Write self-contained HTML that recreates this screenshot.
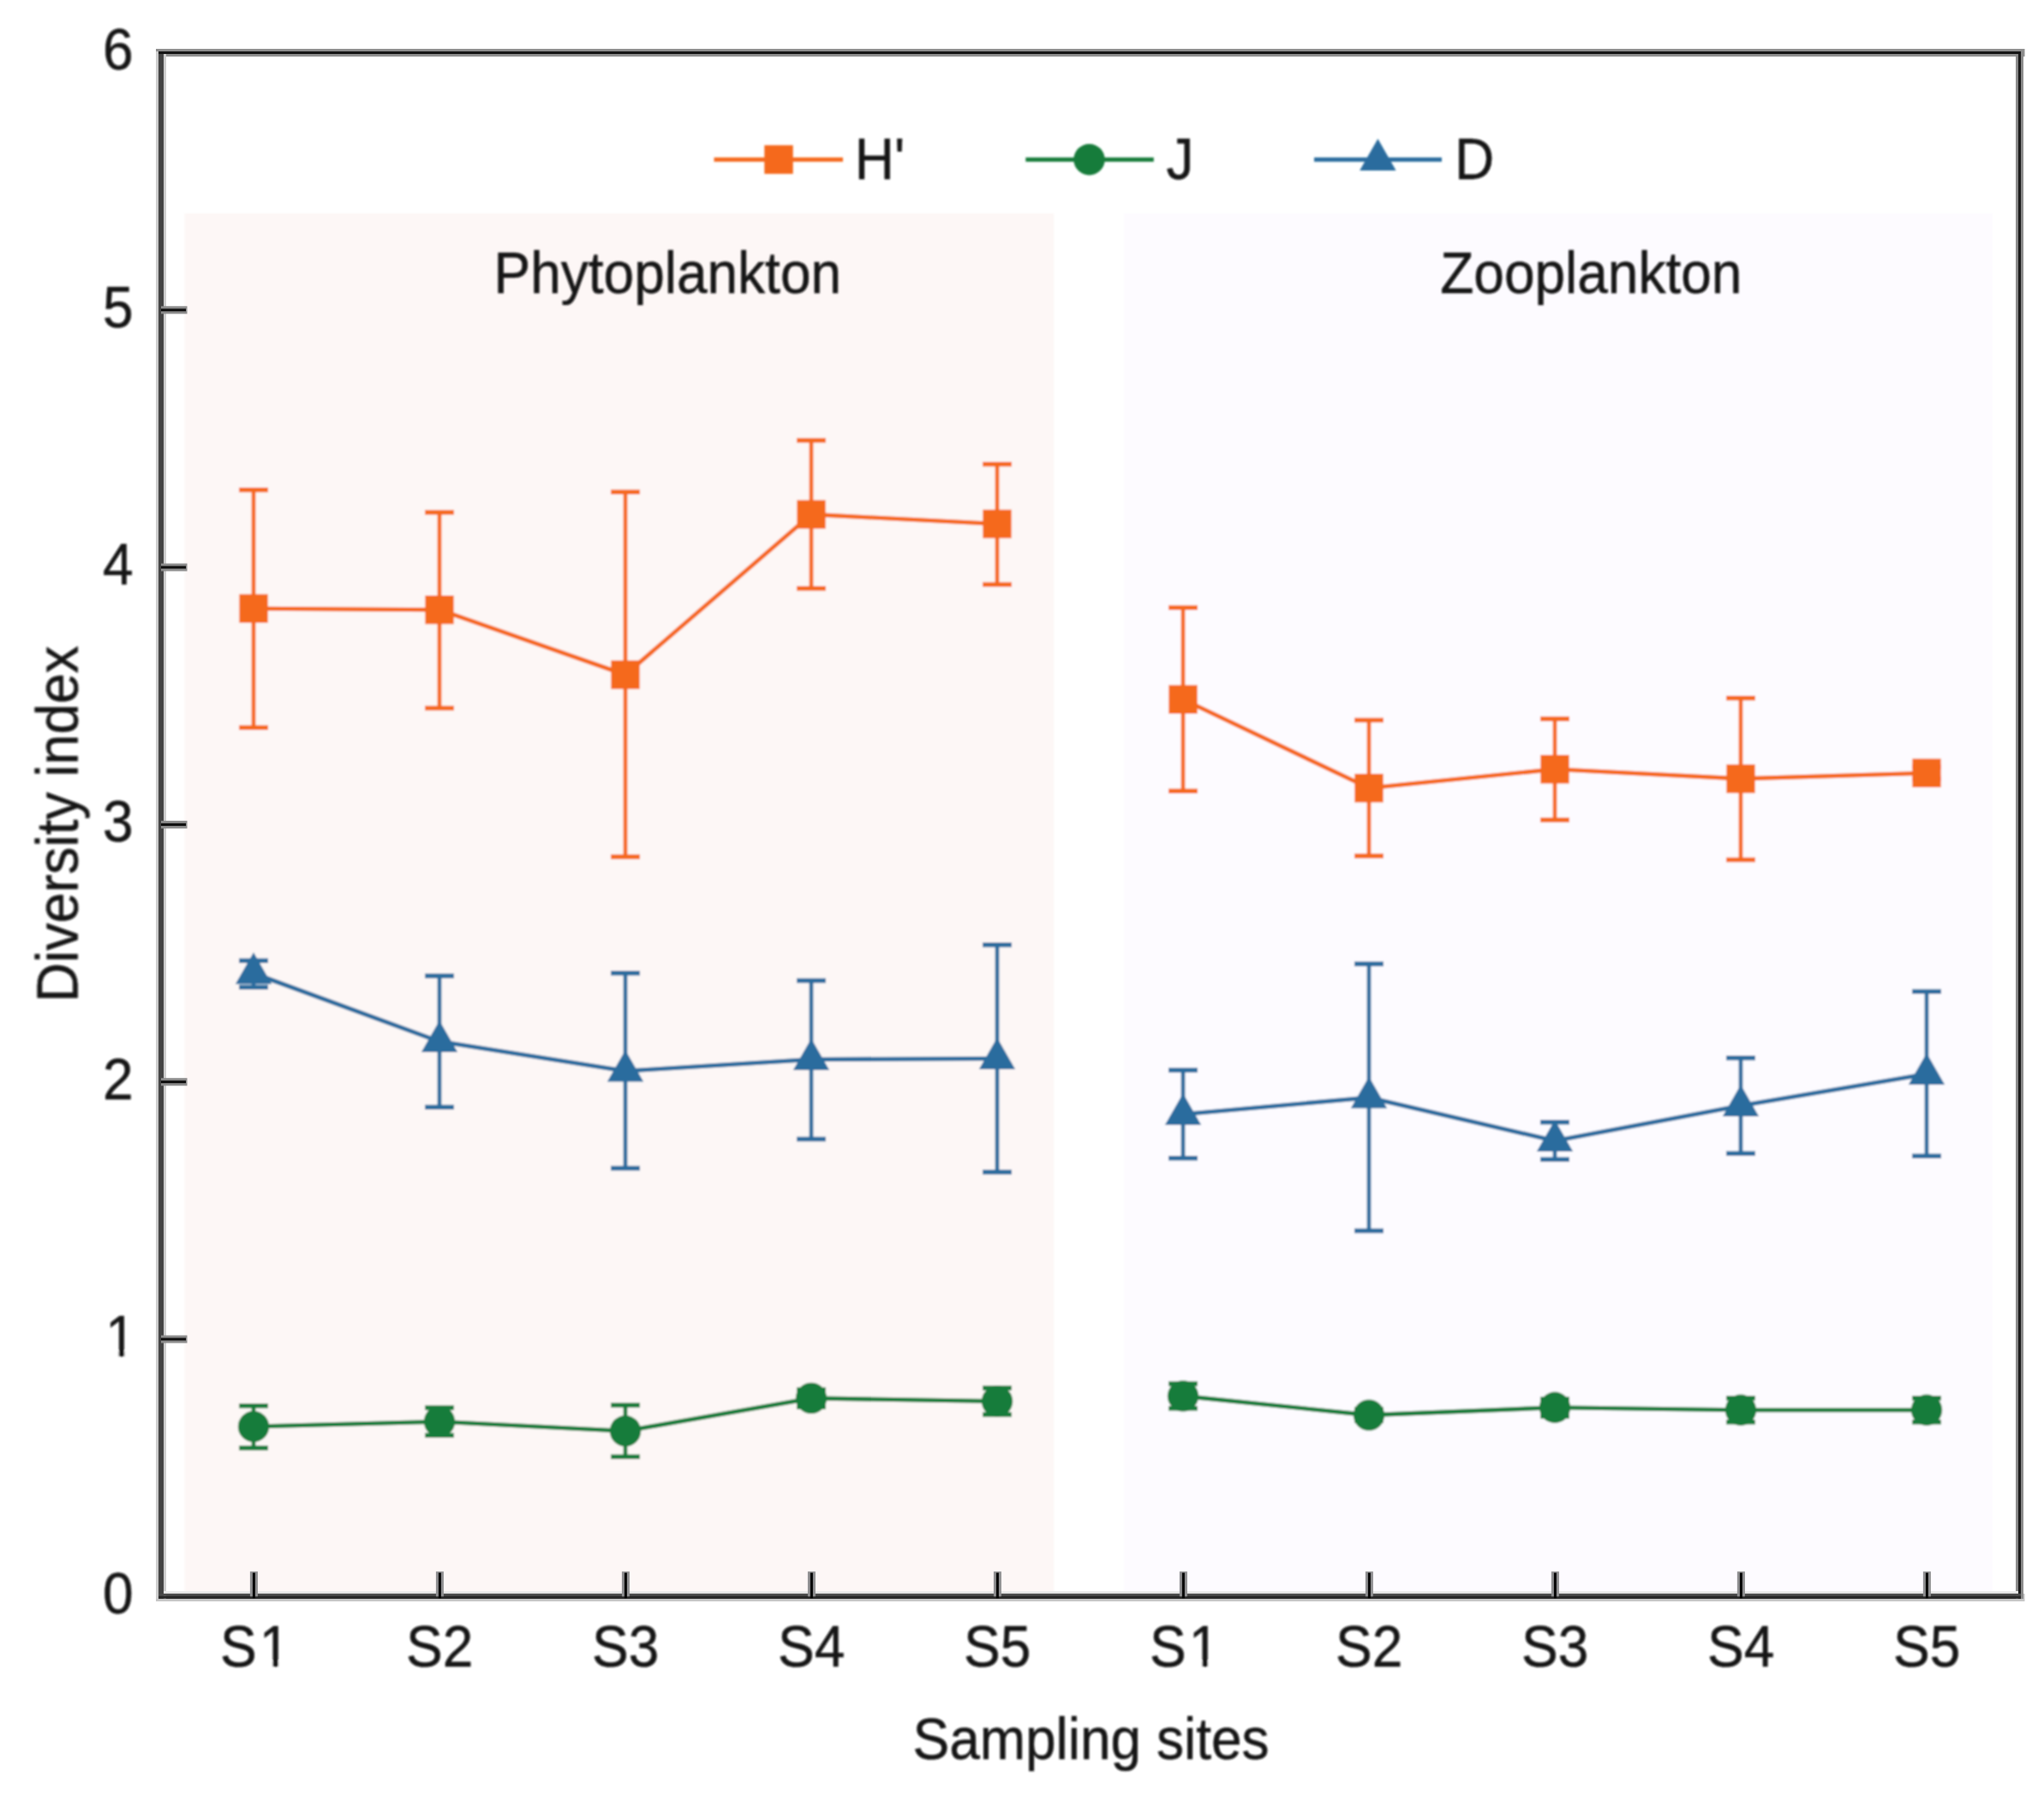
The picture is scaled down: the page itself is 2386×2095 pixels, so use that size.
<!DOCTYPE html>
<html lang="en"><head><meta charset="utf-8"><title>Diversity index of phytoplankton and zooplankton</title>
<style>
html,body{margin:0;padding:0;background:#fff;}
body{width:2386px;height:2095px;overflow:hidden;}
svg{display:block;}
text{font-family:"Liberation Sans",Arial,Helvetica,sans-serif;font-size:68.5px;fill:#141414;stroke:#141414;stroke-width:0.5px;stroke-linejoin:round;}
</style></head><body>
<svg width="2386" height="2095" viewBox="0 0 2386 2095">
<rect x="0" y="0" width="2386" height="2095" fill="#ffffff"/>
<defs>
<filter id="soft" filterUnits="userSpaceOnUse" x="0" y="0" width="2386" height="2095"><feGaussianBlur stdDeviation="0.9"/></filter>
</defs>
<g filter="url(#soft)">
<rect x="215.5" y="249" width="1014.7" height="1611" fill="#fdf7f6"/>
<rect x="1312" y="249" width="1014" height="1611" fill="#fdfbff"/>
<path d="M296,710.2 L513,711.7 L730,787.5 L947,600.4 L1164,611.5" fill="none" stroke="#f5691f" stroke-width="5.1" stroke-linejoin="round"/>
<path d="M1381,816.3 L1598,919.8 L1815,897.8 L2032,908.9 L2249,902.2" fill="none" stroke="#f5691f" stroke-width="5.1" stroke-linejoin="round"/>
<path d="M296,571.8V849.2" fill="none" stroke="#f5691f" stroke-width="4.7"/>
<path d="M279.0,571.8H313.0M279.0,849.2H313.0" fill="none" stroke="#f5691f" stroke-width="5.5"/>
<path d="M513,598V826.6" fill="none" stroke="#f5691f" stroke-width="4.7"/>
<path d="M496.0,598H530.0M496.0,826.6H530.0" fill="none" stroke="#f5691f" stroke-width="5.5"/>
<path d="M730,574.2V1000" fill="none" stroke="#f5691f" stroke-width="4.7"/>
<path d="M713.0,574.2H747.0M713.0,1000H747.0" fill="none" stroke="#f5691f" stroke-width="5.5"/>
<path d="M947,514V686.7" fill="none" stroke="#f5691f" stroke-width="4.7"/>
<path d="M930.0,514H964.0M930.0,686.7H964.0" fill="none" stroke="#f5691f" stroke-width="5.5"/>
<path d="M1164,541.7V682.2" fill="none" stroke="#f5691f" stroke-width="4.7"/>
<path d="M1147.0,541.7H1181.0M1147.0,682.2H1181.0" fill="none" stroke="#f5691f" stroke-width="5.5"/>
<path d="M1381,709.2V923.3" fill="none" stroke="#f5691f" stroke-width="4.7"/>
<path d="M1364.0,709.2H1398.0M1364.0,923.3H1398.0" fill="none" stroke="#f5691f" stroke-width="5.5"/>
<path d="M1598,840.5V999" fill="none" stroke="#f5691f" stroke-width="4.7"/>
<path d="M1581.0,840.5H1615.0M1581.0,999H1615.0" fill="none" stroke="#f5691f" stroke-width="5.5"/>
<path d="M1815,839V957.1" fill="none" stroke="#f5691f" stroke-width="4.7"/>
<path d="M1798.0,839H1832.0M1798.0,957.1H1832.0" fill="none" stroke="#f5691f" stroke-width="5.5"/>
<path d="M2032,814.7V1003.4" fill="none" stroke="#f5691f" stroke-width="4.7"/>
<path d="M2015.0,814.7H2049.0M2015.0,1003.4H2049.0" fill="none" stroke="#f5691f" stroke-width="5.5"/>
<path d="M2249,895V909" fill="none" stroke="#f5691f" stroke-width="4.7"/>
<path d="M2232.0,895H2266.0M2232.0,909H2266.0" fill="none" stroke="#f5691f" stroke-width="5.5"/>
<rect x="279.3" y="693.5" width="33.4" height="33.4" fill="#f5691f"/>
<rect x="496.3" y="695.0" width="33.4" height="33.4" fill="#f5691f"/>
<rect x="713.3" y="770.8" width="33.4" height="33.4" fill="#f5691f"/>
<rect x="930.3" y="583.6999999999999" width="33.4" height="33.4" fill="#f5691f"/>
<rect x="1147.3" y="594.8" width="33.4" height="33.4" fill="#f5691f"/>
<rect x="1364.3" y="799.5999999999999" width="33.4" height="33.4" fill="#f5691f"/>
<rect x="1581.3" y="903.0999999999999" width="33.4" height="33.4" fill="#f5691f"/>
<rect x="1798.3" y="881.0999999999999" width="33.4" height="33.4" fill="#f5691f"/>
<rect x="2015.3" y="892.1999999999999" width="33.4" height="33.4" fill="#f5691f"/>
<rect x="2232.3" y="885.5" width="33.4" height="33.4" fill="#f5691f"/>
<path d="M296,1136 L513,1215.6 L730,1250 L947,1236.5 L1164,1235.5" fill="none" stroke="#2a6c9e" stroke-width="5.1" stroke-linejoin="round"/>
<path d="M1381,1300.5 L1598,1281 L1815,1331.5 L2032,1290.5 L2249,1253.5" fill="none" stroke="#2a6c9e" stroke-width="5.1" stroke-linejoin="round"/>
<path d="M296,1121.3V1152.2" fill="none" stroke="#2a6c9e" stroke-width="4.7"/>
<path d="M279.0,1121.3H313.0M279.0,1152.2H313.0" fill="none" stroke="#2a6c9e" stroke-width="5.5"/>
<path d="M513,1138.9V1292.2" fill="none" stroke="#2a6c9e" stroke-width="4.7"/>
<path d="M496.0,1138.9H530.0M496.0,1292.2H530.0" fill="none" stroke="#2a6c9e" stroke-width="5.5"/>
<path d="M730,1135.7V1363.5" fill="none" stroke="#2a6c9e" stroke-width="4.7"/>
<path d="M713.0,1135.7H747.0M713.0,1363.5H747.0" fill="none" stroke="#2a6c9e" stroke-width="5.5"/>
<path d="M947,1144.5V1329.4" fill="none" stroke="#2a6c9e" stroke-width="4.7"/>
<path d="M930.0,1144.5H964.0M930.0,1329.4H964.0" fill="none" stroke="#2a6c9e" stroke-width="5.5"/>
<path d="M1164,1102.8V1367.9" fill="none" stroke="#2a6c9e" stroke-width="4.7"/>
<path d="M1147.0,1102.8H1181.0M1147.0,1367.9H1181.0" fill="none" stroke="#2a6c9e" stroke-width="5.5"/>
<path d="M1381,1249V1351.8" fill="none" stroke="#2a6c9e" stroke-width="4.7"/>
<path d="M1364.0,1249H1398.0M1364.0,1351.8H1398.0" fill="none" stroke="#2a6c9e" stroke-width="5.5"/>
<path d="M1598,1124.9V1436.6" fill="none" stroke="#2a6c9e" stroke-width="4.7"/>
<path d="M1581.0,1124.9H1615.0M1581.0,1436.6H1615.0" fill="none" stroke="#2a6c9e" stroke-width="5.5"/>
<path d="M1815,1309.8V1353.3" fill="none" stroke="#2a6c9e" stroke-width="4.7"/>
<path d="M1798.0,1309.8H1832.0M1798.0,1353.3H1832.0" fill="none" stroke="#2a6c9e" stroke-width="5.5"/>
<path d="M2032,1234.7V1346.2" fill="none" stroke="#2a6c9e" stroke-width="4.7"/>
<path d="M2015.0,1234.7H2049.0M2015.0,1346.2H2049.0" fill="none" stroke="#2a6c9e" stroke-width="5.5"/>
<path d="M2249,1157.2V1349.2" fill="none" stroke="#2a6c9e" stroke-width="4.7"/>
<path d="M2232.0,1157.2H2266.0M2232.0,1349.2H2266.0" fill="none" stroke="#2a6c9e" stroke-width="5.5"/>
<path d="M296,1111.4L317.2,1148.5H274.8Z" fill="#2a6c9e"/>
<path d="M513,1191.0L534.2,1228.1H491.8Z" fill="#2a6c9e"/>
<path d="M730,1225.4L751.2,1262.5H708.8Z" fill="#2a6c9e"/>
<path d="M947,1211.9L968.2,1249.0H925.8Z" fill="#2a6c9e"/>
<path d="M1164,1210.9L1185.2,1248.0H1142.8Z" fill="#2a6c9e"/>
<path d="M1381,1275.9L1402.2,1313.0H1359.8Z" fill="#2a6c9e"/>
<path d="M1598,1256.4L1619.2,1293.5H1576.8Z" fill="#2a6c9e"/>
<path d="M1815,1306.9L1836.2,1344.0H1793.8Z" fill="#2a6c9e"/>
<path d="M2032,1265.9L2053.2,1303.0H2010.8Z" fill="#2a6c9e"/>
<path d="M2249,1228.9L2270.2,1266.0H2227.8Z" fill="#2a6c9e"/>
<path d="M296,1665 L513,1659.2 L730,1670.2 L947,1631.9 L1164,1635.5" fill="none" stroke="#187c3b" stroke-width="5.1" stroke-linejoin="round"/>
<path d="M1381,1629.4 L1598,1651.6 L1815,1642.8 L2032,1645.7 L2249,1645.7" fill="none" stroke="#187c3b" stroke-width="5.1" stroke-linejoin="round"/>
<path d="M296,1640.7V1690" fill="none" stroke="#187c3b" stroke-width="4.7"/>
<path d="M279.0,1640.7H313.0M279.0,1690H313.0" fill="none" stroke="#187c3b" stroke-width="5.5"/>
<path d="M513,1643V1675.3" fill="none" stroke="#187c3b" stroke-width="4.7"/>
<path d="M496.0,1643H530.0M496.0,1675.3H530.0" fill="none" stroke="#187c3b" stroke-width="5.5"/>
<path d="M730,1640.1V1700.3" fill="none" stroke="#187c3b" stroke-width="4.7"/>
<path d="M713.0,1640.1H747.0M713.0,1700.3H747.0" fill="none" stroke="#187c3b" stroke-width="5.5"/>
<path d="M947,1622V1642" fill="none" stroke="#187c3b" stroke-width="4.7"/>
<path d="M930.0,1622H964.0M930.0,1642H964.0" fill="none" stroke="#187c3b" stroke-width="5.5"/>
<path d="M1164,1620V1651" fill="none" stroke="#187c3b" stroke-width="4.7"/>
<path d="M1147.0,1620H1181.0M1147.0,1651H1181.0" fill="none" stroke="#187c3b" stroke-width="5.5"/>
<path d="M1381,1615.1V1643.7" fill="none" stroke="#187c3b" stroke-width="4.7"/>
<path d="M1364.0,1615.1H1398.0M1364.0,1643.7H1398.0" fill="none" stroke="#187c3b" stroke-width="5.5"/>
<path d="M1598,1645V1658" fill="none" stroke="#187c3b" stroke-width="4.7"/>
<path d="M1581.0,1645H1615.0M1581.0,1658H1615.0" fill="none" stroke="#187c3b" stroke-width="5.5"/>
<path d="M1815,1633V1653" fill="none" stroke="#187c3b" stroke-width="4.7"/>
<path d="M1798.0,1633H1832.0M1798.0,1653H1832.0" fill="none" stroke="#187c3b" stroke-width="5.5"/>
<path d="M2032,1631.7V1659.7" fill="none" stroke="#187c3b" stroke-width="4.7"/>
<path d="M2015.0,1631.7H2049.0M2015.0,1659.7H2049.0" fill="none" stroke="#187c3b" stroke-width="5.5"/>
<path d="M2249,1631.7V1659.7" fill="none" stroke="#187c3b" stroke-width="4.7"/>
<path d="M2232.0,1631.7H2266.0M2232.0,1659.7H2266.0" fill="none" stroke="#187c3b" stroke-width="5.5"/>
<circle cx="296" cy="1665" r="18.2" fill="#187c3b"/>
<circle cx="513" cy="1659.2" r="18.2" fill="#187c3b"/>
<circle cx="730" cy="1670.2" r="18.2" fill="#187c3b"/>
<circle cx="947" cy="1631.9" r="18.2" fill="#187c3b"/>
<circle cx="1164" cy="1635.5" r="18.2" fill="#187c3b"/>
<circle cx="1381" cy="1629.4" r="18.2" fill="#187c3b"/>
<circle cx="1598" cy="1651.6" r="18.2" fill="#187c3b"/>
<circle cx="1815" cy="1642.8" r="18.2" fill="#187c3b"/>
<circle cx="2032" cy="1645.7" r="18.2" fill="#187c3b"/>
<circle cx="2249" cy="1645.7" r="18.2" fill="#187c3b"/>
</g><g>
<rect x="182.0" y="57.0" width="2181.5" height="9" fill="#8e8e8e"/>
<rect x="185.0" y="60.0" width="2175.5" height="3" fill="#141414"/>
<rect x="182.0" y="1860.0" width="2181.5" height="9" fill="#c6c6c6"/>
<rect x="185.0" y="1860.0" width="2175.5" height="6" fill="#363636"/>
<rect x="182.0" y="60.0" width="12" height="1806.0" fill="#cdcdcd"/>
<rect x="185.0" y="60.0" width="6" height="1806.0" fill="#444444"/>
<rect x="2353.0" y="60.0" width="9" height="1806.0" fill="#8a8a8a"/>
<rect x="2356.0" y="60.0" width="3" height="1806.0" fill="#1a1a1a"/>
<rect x="185.0" y="60.0" width="2174.0" height="3" fill="#141414"/>
<rect x="191.0" y="1857.0" width="2165.0" height="3" fill="#eaeaea"/>
<rect x="185.0" y="1859.8999999999999" width="2174.0" height="3" fill="#4a4a4a"/>
<rect x="185.0" y="1862.8999999999999" width="2174.0" height="2.9" fill="#262626"/>
<rect x="188.0" y="1558.5" width="30.5" height="9" fill="#8c8c8c"/>
<rect x="188.0" y="1561.5" width="29.0" height="3" fill="#0c0c0c"/>
<rect x="188.0" y="1258.1999999999998" width="30.5" height="9" fill="#8c8c8c"/>
<rect x="188.0" y="1261.1999999999998" width="29.0" height="3" fill="#0c0c0c"/>
<rect x="188.0" y="957.8999999999999" width="30.5" height="9" fill="#8c8c8c"/>
<rect x="188.0" y="960.8999999999999" width="29.0" height="3" fill="#0c0c0c"/>
<rect x="188.0" y="657.5999999999999" width="30.5" height="9" fill="#8c8c8c"/>
<rect x="188.0" y="660.5999999999999" width="29.0" height="3" fill="#0c0c0c"/>
<rect x="188.0" y="357.29999999999995" width="30.5" height="9" fill="#8c8c8c"/>
<rect x="188.0" y="360.29999999999995" width="29.0" height="3" fill="#0c0c0c"/>
<rect x="291.9" y="1834.2" width="9" height="29.09999999999991" fill="#8e8e90"/>
<rect x="294.9" y="1835.6" width="3" height="29.700000000000045" fill="#060606"/>
<rect x="508.9" y="1834.2" width="9" height="29.09999999999991" fill="#8e8e90"/>
<rect x="511.9" y="1835.6" width="3" height="29.700000000000045" fill="#060606"/>
<rect x="725.9" y="1834.2" width="9" height="29.09999999999991" fill="#8e8e90"/>
<rect x="728.9" y="1835.6" width="3" height="29.700000000000045" fill="#060606"/>
<rect x="942.9" y="1834.2" width="9" height="29.09999999999991" fill="#8e8e90"/>
<rect x="945.9" y="1835.6" width="3" height="29.700000000000045" fill="#060606"/>
<rect x="1159.9" y="1834.2" width="9" height="29.09999999999991" fill="#8e8e90"/>
<rect x="1162.9" y="1835.6" width="3" height="29.700000000000045" fill="#060606"/>
<rect x="1376.9" y="1834.2" width="9" height="29.09999999999991" fill="#8e8e90"/>
<rect x="1379.9" y="1835.6" width="3" height="29.700000000000045" fill="#060606"/>
<rect x="1593.9" y="1834.2" width="9" height="29.09999999999991" fill="#8e8e90"/>
<rect x="1596.9" y="1835.6" width="3" height="29.700000000000045" fill="#060606"/>
<rect x="1810.9" y="1834.2" width="9" height="29.09999999999991" fill="#8e8e90"/>
<rect x="1813.9" y="1835.6" width="3" height="29.700000000000045" fill="#060606"/>
<rect x="2027.9" y="1834.2" width="9" height="29.09999999999991" fill="#8e8e90"/>
<rect x="2030.9" y="1835.6" width="3" height="29.700000000000045" fill="#060606"/>
<rect x="2244.9" y="1834.2" width="9" height="29.09999999999991" fill="#8e8e90"/>
<rect x="2247.9" y="1835.6" width="3" height="29.700000000000045" fill="#060606"/>
</g><g filter="url(#soft)">
<line x1="833.5" y1="186.2" x2="984" y2="186.2" stroke="#f5691f" stroke-width="5.1"/>
<rect x="892.3" y="169.5" width="33.4" height="33.4" fill="#f5691f"/>
<line x1="1197.3" y1="186.2" x2="1346.8" y2="186.2" stroke="#187c3b" stroke-width="5.1"/>
<circle cx="1271.5" cy="186.2" r="18.2" fill="#187c3b"/>
<line x1="1534" y1="186.2" x2="1683" y2="186.2" stroke="#2a6c9e" stroke-width="5.1"/>
<path d="M1608.4,162.0L1629.6000000000001,199.1H1587.2Z" fill="#2a6c9e"/>
<text transform="translate(997.7,208.5) scale(0.9343,1)" text-anchor="start">H&#39;</text>
<text transform="translate(1361.5,208.5) scale(0.9343,1)" text-anchor="start">J</text>
<text transform="translate(1698,208.5) scale(0.9343,1)" text-anchor="start">D</text>
<text transform="translate(779.3,341.5) scale(0.9343,1)" text-anchor="middle">Phytoplankton</text>
<text transform="translate(1857.3,341.5) scale(0.9343,1)" text-anchor="middle">Zooplankton</text>
<text transform="translate(1273.5,2052.8) scale(0.9343,1)" text-anchor="middle">Sampling sites</text>
<text transform="translate(90.6,961.8) rotate(-90) scale(0.9343,1)" text-anchor="middle">Diversity index</text>
<text transform="translate(155.6,1883.2) scale(0.9343,1)" text-anchor="end">0</text>
<text transform="translate(158.6,1582.9) scale(0.9343,1)" text-anchor="end">1</text>
<text transform="translate(155.6,1282.6) scale(0.9343,1)" text-anchor="end">2</text>
<text transform="translate(155.6,982.2999999999998) scale(0.9343,1)" text-anchor="end">3</text>
<text transform="translate(155.6,681.9999999999999) scale(0.9343,1)" text-anchor="end">4</text>
<text transform="translate(155.6,381.69999999999993) scale(0.9343,1)" text-anchor="end">5</text>
<text transform="translate(155.6,81.39999999999978) scale(0.9343,1)" text-anchor="end">6</text>
<text transform="translate(257.1,1944.6) scale(0.9343,1)">S<tspan dx="3.21">1</tspan></text>
<text transform="translate(474.1,1944.6) scale(0.9343,1)" text-anchor="start">S2</text>
<text transform="translate(691.1,1944.6) scale(0.9343,1)" text-anchor="start">S3</text>
<text transform="translate(908.1,1944.6) scale(0.9343,1)" text-anchor="start">S4</text>
<text transform="translate(1125.1,1944.6) scale(0.9343,1)" text-anchor="start">S5</text>
<text transform="translate(1342.1,1944.6) scale(0.9343,1)">S<tspan dx="3.21">1</tspan></text>
<text transform="translate(1559.1,1944.6) scale(0.9343,1)" text-anchor="start">S2</text>
<text transform="translate(1776.1,1944.6) scale(0.9343,1)" text-anchor="start">S3</text>
<text transform="translate(1993.1,1944.6) scale(0.9343,1)" text-anchor="start">S4</text>
<text transform="translate(2210.1,1944.6) scale(0.9343,1)" text-anchor="start">S5</text>
<rect x="125.89" y="1576.78" width="12.72" height="8.62" fill="#ffffff"/>
<rect x="145.27" y="1576.78" width="12.22" height="8.62" fill="#ffffff"/>
<rect x="305.66" y="1938.48" width="12.72" height="8.62" fill="#ffffff"/>
<rect x="325.04" y="1938.48" width="12.22" height="8.62" fill="#ffffff"/>
<rect x="1390.66" y="1938.48" width="12.72" height="8.62" fill="#ffffff"/>
<rect x="1410.04" y="1938.48" width="12.22" height="8.62" fill="#ffffff"/>
</g>
</svg></body></html>
